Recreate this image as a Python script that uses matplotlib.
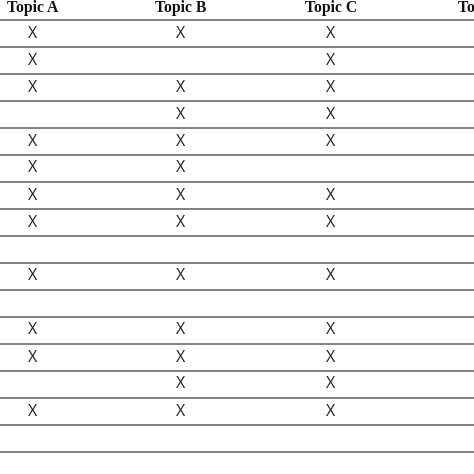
import matplotlib
matplotlib.use("Agg")
import matplotlib.pyplot as plt

topics = ["Topic A", "Topic B", "Topic C", "Topic D"]
# one string per row: which of A, B, C are marked
rows = ["ABC", "AC", "ABC", "BC", "ABC", "AB", "ABC", "ABC", "",
        "ABC", "", "ABC", "ABC", "BC", "ABC", ""]

col_x = [33, 181, 331, 484]
row_h = 27
top = 20

fig = plt.figure(figsize=(4.74, 4.74), dpi=100)
ax = fig.add_axes([0, 0, 1, 1])
ax.set_xlim(0, 474)
ax.set_ylim(474, 0)
ax.set_axis_off()

for x, name in zip(col_x, topics):
    ax.text(x, 8, name, ha="center", va="center", fontsize=11.3,
            fontweight="bold", family="Liberation Serif", color="#111111")

for i in range(len(rows) + 1):
    ax.axhline(top + i * row_h, color="#777777", lw=1.3)

for i, marks in enumerate(rows):
    y = top + i * row_h + row_h / 2
    for j, letter in enumerate("ABC"):
        if letter in marks:
            ax.text(col_x[j], y, "X", ha="center", va="center",
                    fontsize=11.5, family="Open Sans", color="#222222")

plt.savefig("out.png", dpi=100)
